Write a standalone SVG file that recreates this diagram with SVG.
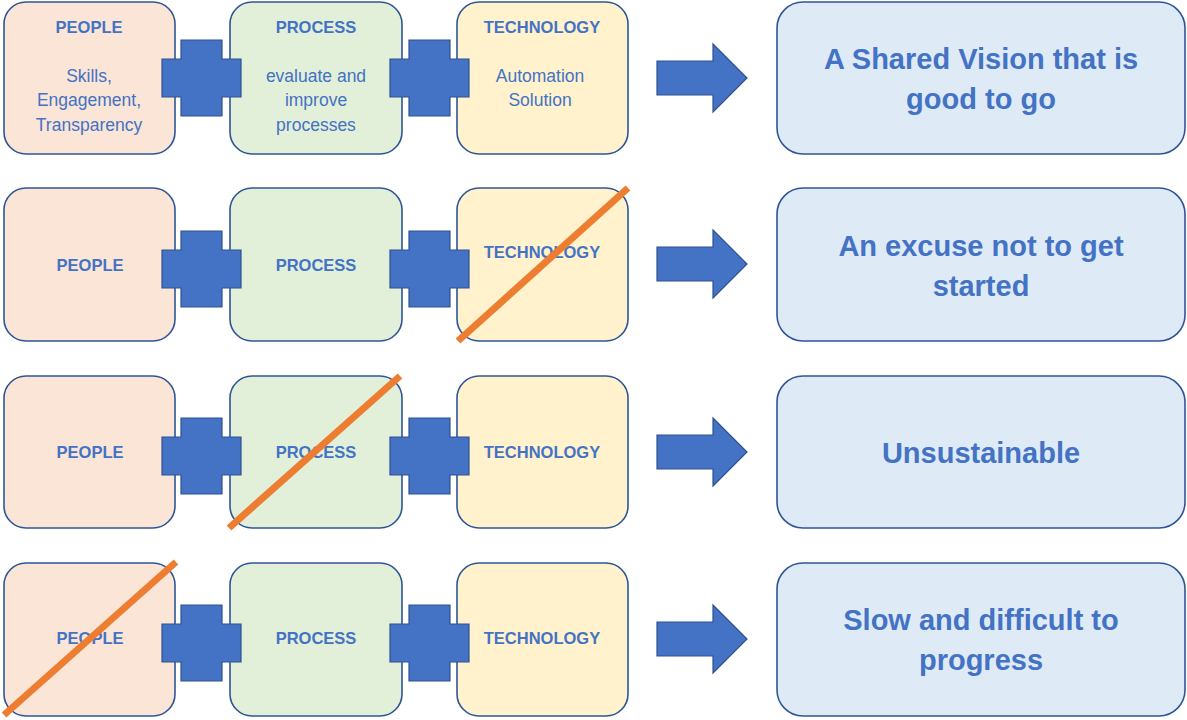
<svg xmlns="http://www.w3.org/2000/svg" width="1187" height="720" viewBox="0 0 1187 720">
<defs>
<style>
.box{stroke:#2F5597;stroke-width:1.6}
.people{fill:#FBE5D6}.process{fill:#E2F0D9}.tech{fill:#FFF2CC}.result{fill:#DEEBF7}
.plus{fill:#4472C4;stroke:#2F528F;stroke-width:1.2}
.arrow{fill:#4472C4;stroke:#2F528F;stroke-width:1.2}
.slash{stroke:#ED7D31;stroke-width:7;stroke-linecap:butt}
.lbl{font-family:"Liberation Sans",Arial,sans-serif;font-weight:bold;font-size:16.5px;fill:#4472C4;text-anchor:middle}
.sub{font-family:"Liberation Sans",Arial,sans-serif;font-size:17.5px;fill:#4472C4;text-anchor:middle}
.res{font-family:"Liberation Sans",Arial,sans-serif;font-weight:bold;font-size:29px;fill:#4472C4;text-anchor:middle}
</style>
<path id="plusShape" d="M19,0 H60 V19 H79 V57 H60 V76 H19 V57 H0 V19 H19 Z"/>
<path id="arrowShape" d="M0,-17 H56 V-34 L90,0 L56,34 V17 H0 Z"/>
</defs>
<rect width="1187" height="720" fill="#FFFFFF"/>

<!-- Row 1 -->
<g id="row1-people"><rect class="box people" x="4" y="2" width="171" height="152" rx="22"/>
<text class="lbl" x="89" y="33">PEOPLE</text>
<text class="sub" x="89" y="82">Skills,</text><text class="sub" x="89" y="106">Engagement,</text><text class="sub" x="89" y="131">Transparency</text></g>
<g id="row1-process"><rect class="box process" x="230" y="2" width="172" height="152" rx="22"/>
<text class="lbl" x="316" y="33">PROCESS</text>
<text class="sub" x="316" y="82">evaluate and</text><text class="sub" x="316" y="106">improve</text><text class="sub" x="316" y="131">processes</text></g>
<g id="row1-tech"><rect class="box tech" x="457" y="2" width="171" height="152" rx="22"/>
<text class="lbl" x="542" y="33">TECHNOLOGY</text>
<text class="sub" x="540" y="82">Automation</text><text class="sub" x="540" y="106">Solution</text></g>
<g id="row1-result"><rect class="box result" x="777" y="2" width="408" height="152" rx="26"/>
<text class="res" x="981" y="69">A Shared Vision that is</text><text class="res" x="981" y="109">good to go</text></g>

<!-- Row 2 -->
<g id="row2-people"><rect class="box people" x="4" y="188" width="171" height="153" rx="22"/>
<text class="lbl" x="90" y="271">PEOPLE</text></g>
<g id="row2-process"><rect class="box process" x="230" y="188" width="172" height="153" rx="22"/>
<text class="lbl" x="316" y="271">PROCESS</text></g>
<g id="row2-tech"><rect class="box tech" x="457" y="188" width="171" height="153" rx="22"/>
<text class="lbl" x="542" y="258">TECHNOLOGY</text></g>
<g id="row2-result"><rect class="box result" x="777" y="188" width="408" height="153" rx="26"/>
<text class="res" x="981" y="256">An excuse not to get</text><text class="res" x="981" y="296">started</text></g>

<!-- Row 3 -->
<g id="row3-people"><rect class="box people" x="4" y="376" width="171" height="152" rx="22"/>
<text class="lbl" x="90" y="458">PEOPLE</text></g>
<g id="row3-process"><rect class="box process" x="230" y="376" width="172" height="152" rx="22"/>
<text class="lbl" x="316" y="458">PROCESS</text></g>
<g id="row3-tech"><rect class="box tech" x="457" y="376" width="171" height="152" rx="22"/>
<text class="lbl" x="542" y="458">TECHNOLOGY</text></g>
<g id="row3-result"><rect class="box result" x="777" y="376" width="408" height="152" rx="26"/>
<text class="res" x="981" y="463">Unsustainable</text></g>

<!-- Row 4 -->
<g id="row4-people"><rect class="box people" x="4" y="563" width="171" height="153" rx="22"/>
<text class="lbl" x="90" y="644">PEOPLE</text></g>
<g id="row4-process"><rect class="box process" x="230" y="563" width="172" height="153" rx="22"/>
<text class="lbl" x="316" y="644">PROCESS</text></g>
<g id="row4-tech"><rect class="box tech" x="457" y="563" width="171" height="153" rx="22"/>
<text class="lbl" x="542" y="644">TECHNOLOGY</text></g>
<g id="row4-result"><rect class="box result" x="777" y="563" width="408" height="153" rx="26"/>
<text class="res" x="981" y="630">Slow and difficult to</text><text class="res" x="981" y="670">progress</text></g>

<!-- Connectors: plus joins and arrows -->
<g id="connectors">
<use href="#plusShape" class="plus" x="162" y="40"/>
<use href="#plusShape" class="plus" x="390" y="40"/>
<use href="#plusShape" class="plus" x="162" y="231"/>
<use href="#plusShape" class="plus" x="390" y="231"/>
<use href="#plusShape" class="plus" x="162" y="418"/>
<use href="#plusShape" class="plus" x="390" y="418"/>
<use href="#plusShape" class="plus" x="162" y="605"/>
<use href="#plusShape" class="plus" x="390" y="605"/>
<use href="#arrowShape" class="arrow" x="657" y="78"/>
<use href="#arrowShape" class="arrow" x="657" y="264"/>
<use href="#arrowShape" class="arrow" x="657" y="452"/>
<use href="#arrowShape" class="arrow" x="657" y="639"/>
</g>

<!-- Strike-through lines -->
<g id="strikes">
<line class="slash" x1="458" y1="341" x2="628" y2="188"/>
<line class="slash" x1="229" y1="528" x2="400" y2="376"/>
<line class="slash" x1="4" y1="715" x2="176" y2="562"/>
</g>
</svg>
